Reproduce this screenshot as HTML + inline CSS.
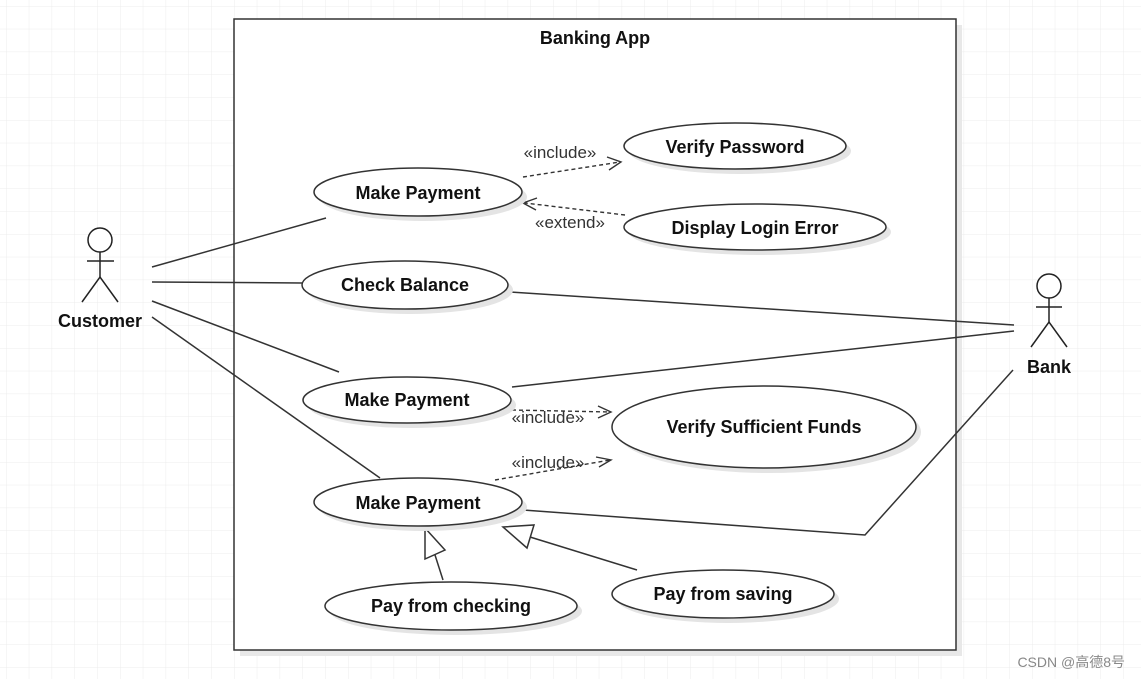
<!DOCTYPE html>
<html><head><meta charset="utf-8"><style>
html,body{margin:0;padding:0;background:#fff;}
svg{display:block;}
text{font-family:"Liberation Sans","Noto Sans CJK SC",sans-serif;}
</style></head><body>
<svg width="1141" height="679" viewBox="0 0 1141 679" xmlns="http://www.w3.org/2000/svg">
<defs>
<pattern id="g" x="6" y="6" width="22.8" height="22.8" patternUnits="userSpaceOnUse">
<path d="M0 0H22.8M0 0V22.8" stroke="#ececec" stroke-width="1" fill="none"/>
</pattern>
</defs>
<rect width="1141" height="679" fill="url(#g)"/>
<rect x="240" y="25" width="722" height="631" fill="#e8e8e8"/>
<rect x="234" y="19" width="722" height="631" fill="#fff" stroke="#333" stroke-width="1.5"/>
<text x="595" y="44" text-anchor="middle" font-size="18" font-weight="bold" fill="#111">Banking App</text>

<g stroke="#333" stroke-width="1.5" fill="none">
<line x1="152" y1="267" x2="326" y2="218"/>
<line x1="152" y1="282" x2="302" y2="283"/>
<line x1="152" y1="301" x2="339" y2="372"/>
<line x1="152" y1="317" x2="380" y2="478"/>
<line x1="510" y1="292" x2="1014" y2="325"/>
<line x1="512" y1="387" x2="1014" y2="331"/>
<polyline points="1013,370 865,535 523,510"/>
<line x1="443" y1="580" x2="435" y2="555"/>
<polygon points="425,528 445,550 425,559" fill="#fff"/>
<line x1="637" y1="570" x2="530" y2="537"/>
<polygon points="503,527 534,525 527,548" fill="#fff"/>
</g>
<g stroke="#333" stroke-width="1.4" fill="none" stroke-dasharray="4,3">
<line x1="523" y1="177" x2="620" y2="162"/>
<line x1="625" y1="215" x2="525" y2="203"/>
<line x1="512" y1="410" x2="610" y2="412"/>
<line x1="495" y1="480" x2="610" y2="460"/>
</g>
<g stroke="#333" stroke-width="1.4" fill="none">
<polyline points="607,157 621,162 609,170"/>
<polyline points="537,198 523,203 536,210"/>
<polyline points="598,406 611,412 598,418"/>
<polyline points="596,457 611,460 599,467"/>
</g>
<g font-size="17" fill="#333">
<text x="560" y="158" text-anchor="middle">«include»</text>
<text x="570" y="228" text-anchor="middle">«extend»</text>
<text x="548" y="423" text-anchor="middle">«include»</text>
<text x="548" y="468" text-anchor="middle">«include»</text>
</g>

<g fill="#e4e4e4">
<ellipse cx="423" cy="197" rx="104" ry="24"/>
<ellipse cx="740" cy="151" rx="111" ry="23"/>
<ellipse cx="760" cy="232" rx="131" ry="23"/>
<ellipse cx="410" cy="290" rx="103" ry="24"/>
<ellipse cx="412" cy="405" rx="104" ry="23"/>
<ellipse cx="769" cy="432" rx="152" ry="41"/>
<ellipse cx="423" cy="507" rx="104" ry="24"/>
<ellipse cx="456" cy="611" rx="126" ry="24"/>
<ellipse cx="728" cy="599" rx="111" ry="24"/>
</g>
<g fill="#fff" stroke="#333" stroke-width="1.5">
<ellipse cx="418" cy="192" rx="104" ry="24"/>
<ellipse cx="735" cy="146" rx="111" ry="23"/>
<ellipse cx="755" cy="227" rx="131" ry="23"/>
<ellipse cx="405" cy="285" rx="103" ry="24"/>
<ellipse cx="407" cy="400" rx="104" ry="23"/>
<ellipse cx="764" cy="427" rx="152" ry="41"/>
<ellipse cx="418" cy="502" rx="104" ry="24"/>
<ellipse cx="451" cy="606" rx="126" ry="24"/>
<ellipse cx="723" cy="594" rx="111" ry="24"/>
</g>
<g font-size="18" font-weight="bold" fill="#111" text-anchor="middle">
<text x="418" y="199">Make Payment</text>
<text x="735" y="153">Verify Password</text>
<text x="755" y="234">Display Login Error</text>
<text x="405" y="291">Check Balance</text>
<text x="407" y="406">Make Payment</text>
<text x="764" y="433">Verify Sufficient Funds</text>
<text x="418" y="509">Make Payment</text>
<text x="451" y="612">Pay from checking</text>
<text x="723" y="600">Pay from saving</text>
</g>

<g stroke="#222" stroke-width="1.5" fill="none">
<circle cx="100" cy="240" r="12" fill="#fff"/>
<line x1="100" y1="252" x2="100" y2="277"/>
<line x1="87" y1="261" x2="114" y2="261"/>
<polyline points="82,302 100,277 118,302"/>
<circle cx="1049" cy="286" r="12" fill="#fff"/>
<line x1="1049" y1="298" x2="1049" y2="322"/>
<line x1="1036" y1="307" x2="1062" y2="307"/>
<polyline points="1031,347 1049,322 1067,347"/>
</g>
<g font-size="18" font-weight="bold" fill="#111" text-anchor="middle">
<text x="100" y="327">Customer</text>
<text x="1049" y="373">Bank</text>
</g>
<text x="1125" y="667" text-anchor="end" font-size="14" fill="#888">CSDN @高德8号</text>
</svg>
</body></html>
